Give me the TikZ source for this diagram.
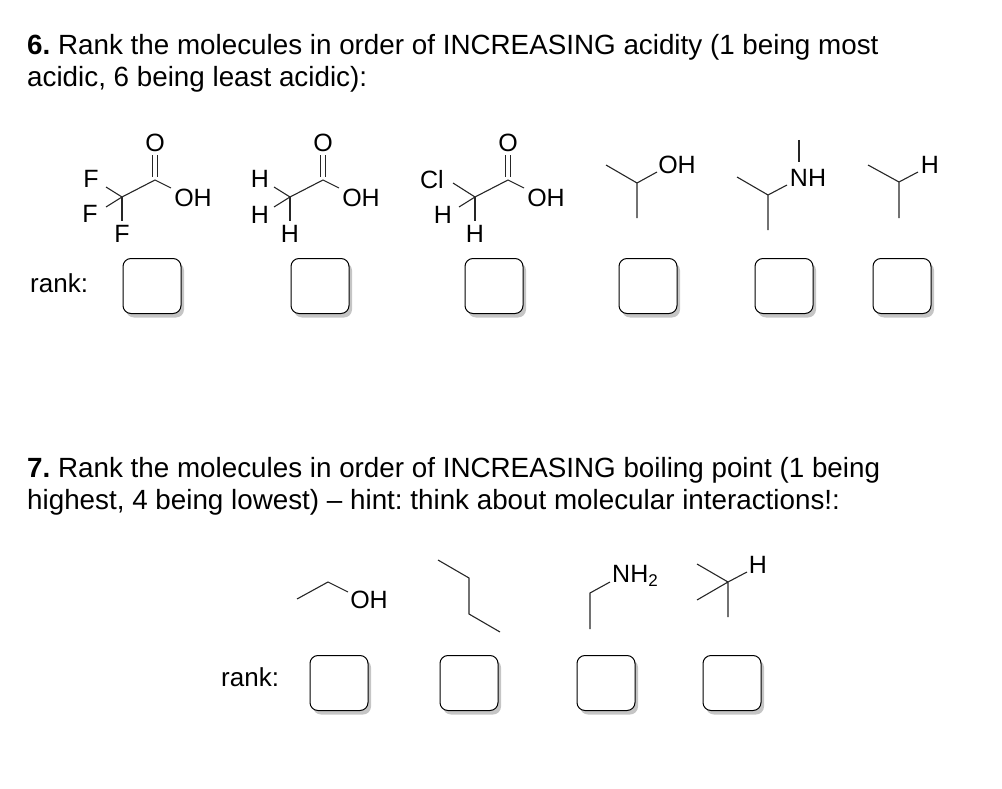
\documentclass[tikz,border=0pt]{standalone}
\usepackage{fontspec}
\setmainfont{Liberation Sans}
\usetikzlibrary{shadows}
\frenchspacing
\begin{document}
\begin{tikzpicture}[x=1pt,y=-1pt,
  bond/.style={line width=1.1pt,black!85},
  atom/.style={inner sep=0pt,font=\fontsize{25}{25}\selectfont},
  rankbox/.style={draw,line width=1pt,rounded corners=8pt,minimum width=58pt,minimum height=55pt,fill=white,
    drop shadow={shadow xshift=3pt,shadow yshift=-4pt,fill=black!45}},
  ttl/.style={anchor=west,inner sep=0pt,font=\fontsize{27.8}{27.8}\selectfont}]
\useasboundingbox (0,0) rectangle (1002,789);
\node[ttl] (t1) at (27,47) {\textbf{6.} Rank the molecules in order of INCREASING acidity (1 being most};
\node[ttl] (t2) at (27,79) {acidic, 6 being least acidic):};
\node[ttl] (t3) at (27,470) {\textbf{7.} Rank the molecules in order of INCREASING boiling point (1 being};
\node[ttl] (t4) at (27,502) {highest, 4 being lowest) -- hint: think about molecular interactions!:};
\node[atom,anchor=west,font=\fontsize{26}{26}\selectfont] (r1) at (30,283) {rank:};
\node[atom,anchor=west,font=\fontsize{26}{26}\selectfont] (r2) at (221,677) {rank:};
% boxes
\foreach \x/\n in {152/b1,320/b2,494/b3,648/b4,784/b5,902/b6}
  \node[rankbox] (\n) at (\x,286) {};
\foreach \x/\n in {339/c1,469/c2,606/c3,732/c4}
  \node[rankbox] (\n) at (\x,683) {};
% acid molecules
\foreach \cx/\i/\y in {122/a/F,290/b/H,475/c/H}{
  \coordinate (\i C) at (\cx,197);
  \coordinate (\i K) at (\cx+33,180);
  \node[atom] (\i O) at (\cx+33,143) {O};
  \node[atom] (\i OH) at (\cx+71,198) {OH};
  \draw[bond] (\i C) -- (\i K) -- (\cx+49,188);
  \draw[bond] (\cx+30.5,177) -- (\cx+30.5,155) (\cx+35.5,177) -- (\cx+35.5,155);
  \node[atom] (\i Y) at (\cx,234) {\y};
  \draw[bond] (\i C) -- (\cx,221);
}
\node[atom] (aF1) at (91,179) {F};
\node[atom] (aF2) at (90,214) {F};
\draw[bond] (106,187) -- (aC) -- (106,207);
\node[atom] (bH1) at (260,179) {H};
\node[atom] (bH2) at (260,215) {H};
\draw[bond] (274,187) -- (bC) -- (274,207);
\node[atom] (cCl) at (432,180) {Cl};
\node[atom] (cH2) at (443,215) {H};
\draw[bond] (453,183) -- (cC) -- (459,207);
% isopropanol
\coordinate (m4) at (637,183);
\node[atom] (m4O) at (677,165) {OH};
\draw[bond] (606,165) -- (m4) -- (637,218) (m4) -- (657,172);
% N-methylisopropylamine
\coordinate (m5) at (768,195);
\node[atom] (m5N) at (808,178) {NH};
\draw[bond] (737,177) -- (m5) -- (768,230) (m5) -- (787,185);
\draw[bond] (799,140) -- (799,162);
% propane
\coordinate (m6) at (899,182);
\node[atom] (m6H) at (930,165) {H};
\draw[bond] (868,165) -- (m6) -- (899,218) (m6) -- (918,172);
% row 2
\node[atom] (eOH) at (369,600) {OH};
\draw[bond] (297,599) -- (328,582) -- (348,592);
\draw[bond] (438,560) -- (469,578) -- (469,614) -- (500,632);
\node[atom,anchor=west] (nN) at (612,576) {NH\raisebox{-0.3ex}{\fontsize{17}{17}\selectfont 2}};
\draw[bond] (590,629) -- (590,593) -- (610,582);
\coordinate (iC) at (728,582);
\node[atom] (iH) at (758,565) {H};
\draw[bond] (697,564) -- (iC) -- (697,600) (iC) -- (728,617) (iC) -- (747,572);
\end{tikzpicture}
\end{document}
